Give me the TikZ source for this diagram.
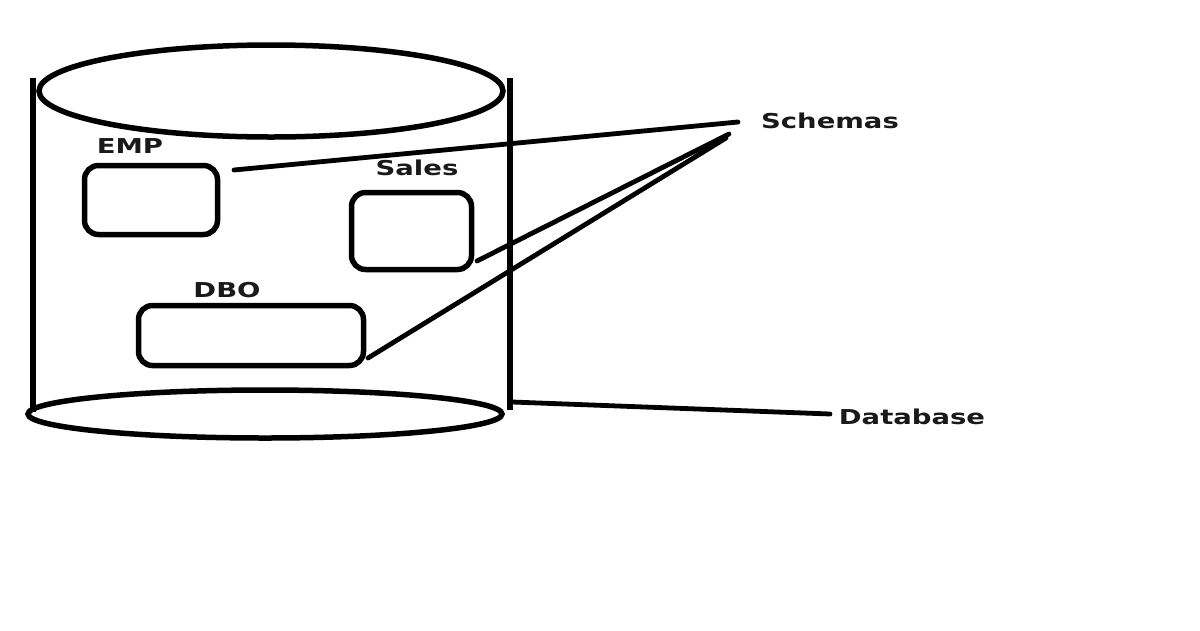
\documentclass[tikz,border=0pt]{standalone}
\usepackage{fontspec}
\newfontfamily\lab[FakeStretch=1.34]{DejaVu Sans Bold}
\begin{document}
\begin{tikzpicture}[x=1pt,y=-1pt,
  cyl/.style={line width=5.5pt},
  schemabox/.style={draw,line width=5.5pt,rounded corners=14pt,inner sep=0pt},
  lbl/.style={font=\lab\fontsize{20.5}{24}\selectfont,inner sep=0pt,text=black!90},
  conn/.style={line width=4.8pt,line cap=round}]
\useasboundingbox[fill=white] (0,0) rectangle (1200,630);
% cylinder
\draw[cyl] (271,91) ellipse [x radius=232, y radius=46];
\draw[cyl] (265,414) ellipse [x radius=237, y radius=24];
\draw[cyl] (33,78) -- (33,412);
\draw[cyl] (510,78) -- (510,410);
% schema boxes
\node[schemabox,minimum width=133pt,minimum height=69pt] (emp) at (151,200) {};
\node[schemabox,minimum width=120pt,minimum height=77pt] (sales) at (411.5,231) {};
\node[schemabox,minimum width=225pt,minimum height=60pt] (dbo) at (251,335.5) {};
% labels
\node[lbl] (emplbl) at (130,146) {EMP};
\node[lbl] (saleslbl) at (417,168) {Sales};
\node[lbl] (dbolbl) at (227,290) {DBO};
\node[lbl] (schemas) at (830,121) {Schemas};
\node[lbl] (database) at (912,417) {Database};
% connector ends
\coordinate (s1) at (738,122);
\coordinate (s2) at (729,134);
\coordinate (s3) at (726,138);
\coordinate (d1) at (830,414);
\coordinate (e1) at (234,170);
\coordinate (sa1) at (477,261);
\coordinate (db1) at (368,358);
\coordinate (cy1) at (512,402);
\draw[conn] (e1) -- (s1);
\draw[conn] (sa1) -- (s2);
\draw[conn] (db1) -- (s3);
\draw[conn] (cy1) -- (d1);
\end{tikzpicture}
\end{document}
